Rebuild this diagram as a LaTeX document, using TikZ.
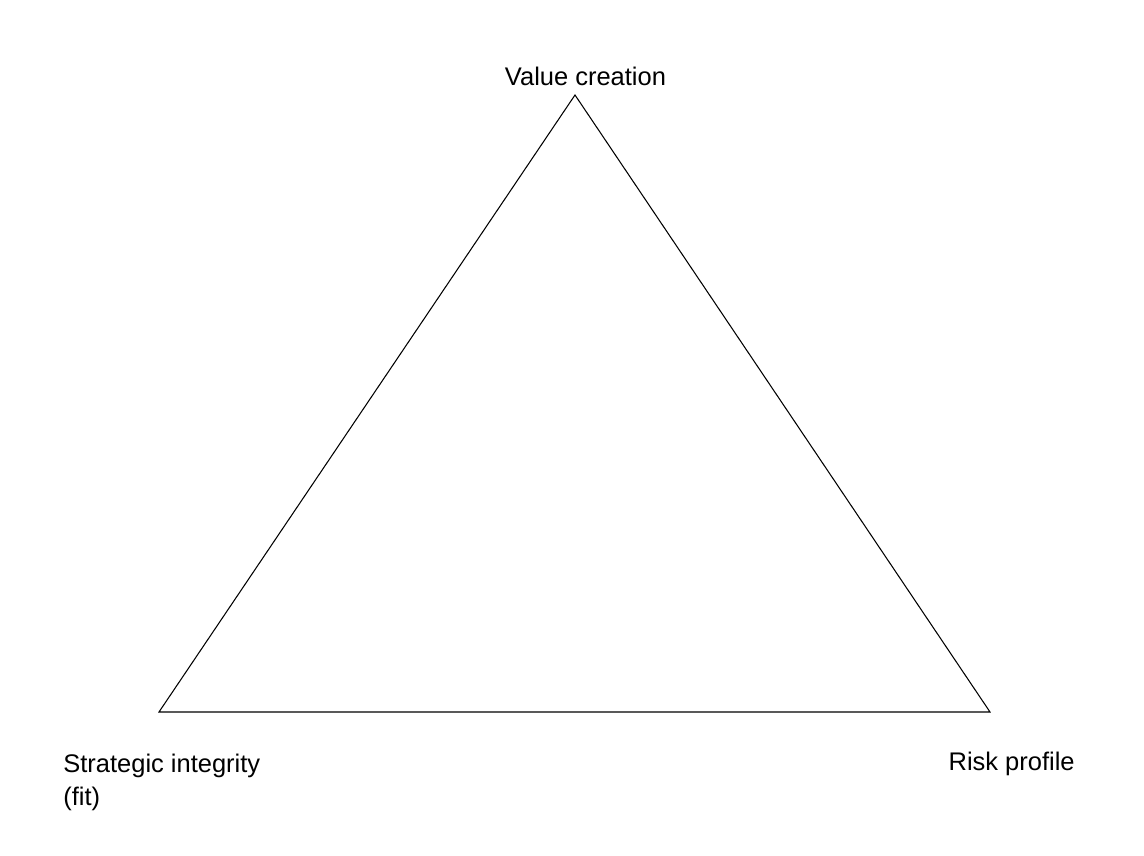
\documentclass[tikz,border=0pt]{standalone}
\usepackage{fontspec}
\setmainfont{Liberation Sans}
\usepackage{tikz}

\begin{document}
\begin{tikzpicture}[
    corner/.style={font=\fontsize{14.5}{18.8}\selectfont, inner sep=0pt},
    side/.style={line width=0.6pt}]
    \useasboundingbox (0,0) rectangle (22.88,17.12);

    \coordinate (top) at (11.5,15.22);
    \coordinate (left) at (3.18,2.88);
    \coordinate (right) at (19.8,2.88);

    \draw[side] (top) -- (right) -- (left) -- cycle;

    \node[corner,anchor=base] (value) at (11.71,15.4) {Value creation};
    \node[corner,anchor=base west,align=left] (strategy) at (1.26,1.0) {Strategic integrity\\(fit)};
    \node[corner,anchor=base east] (risk) at (21.5,1.70) {Risk profile};
  \end{tikzpicture}
\end{document}
